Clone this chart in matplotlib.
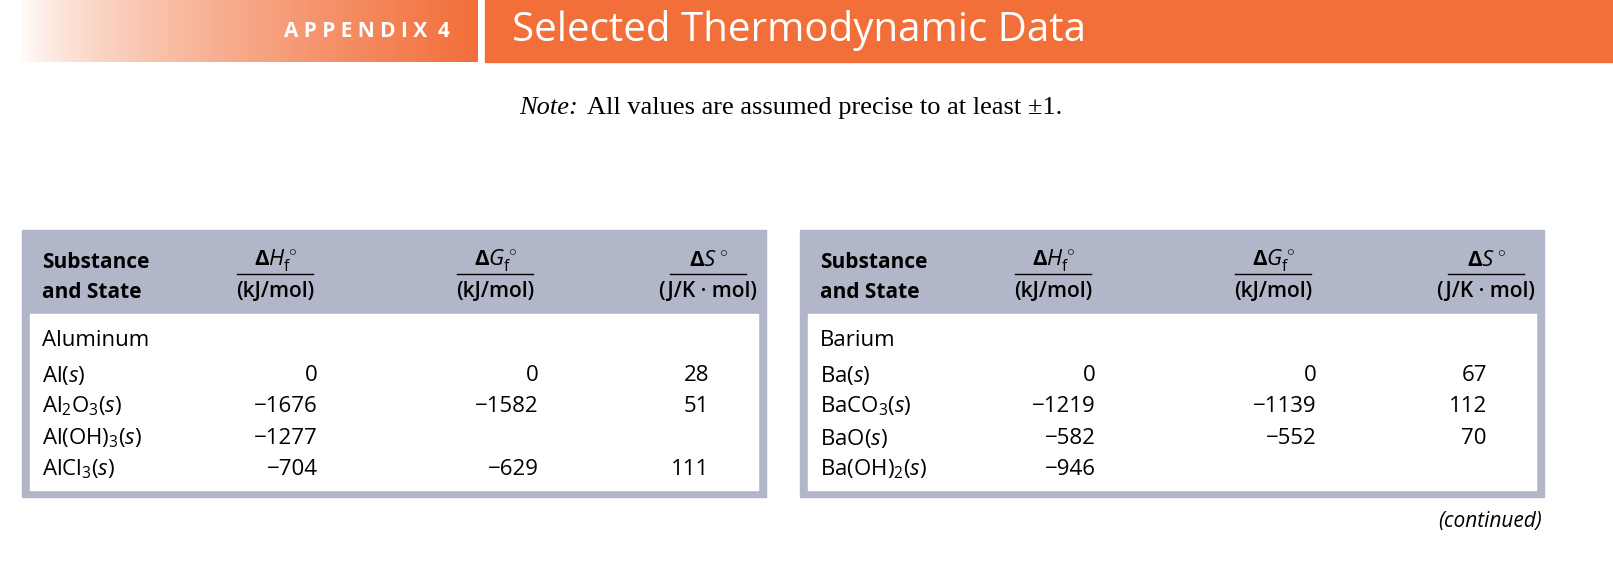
import matplotlib.pyplot as plt
import numpy as np
from matplotlib.colors import LinearSegmentedColormap

plt.rcParams['font.family'] = ['Open Sans', 'DejaVu Sans']
plt.rcParams['mathtext.fontset'] = 'custom'
plt.rcParams['mathtext.rm'] = 'Open Sans'
plt.rcParams['mathtext.it'] = 'Open Sans:italic'
plt.rcParams['mathtext.bf'] = 'Open Sans:bold'

ORANGE = '#F26F3A'
GRAYBLUE = '#B1B6C9'

left_group = 'Aluminum'
left_names = [r'Al($\it{s}$)', r'Al$_2$O$_3$($\it{s}$)', r'Al(OH)$_3$($\it{s}$)', r'AlCl$_3$($\it{s}$)']
left_dH = ['0', '\u22121676', '\u22121277', '\u2212704']
left_dG = ['0', '\u22121582', '', '\u2212629']
left_S = ['28', '51', '', '111']

right_group = 'Barium'
right_names = [r'Ba($\it{s}$)', r'BaCO$_3$($\it{s}$)', r'BaO($\it{s}$)', r'Ba(OH)$_2$($\it{s}$)']
right_dH = ['0', '\u22121219', '\u2212582', '\u2212946']
right_dG = ['0', '\u22121139', '\u2212552', '']
right_S = ['67', '112', '70', '']

fig = plt.figure(figsize=(16.13, 5.69), dpi=100)
ax = fig.add_axes([0, 0, 1, 1])
ax.set_xlim(0, 1613)
ax.set_ylim(569, 0)
ax.axis('off')

# header band with gradient
grad = np.linspace(0, 1, 256)[None, :]
cmap = LinearSegmentedColormap.from_list('g', ['white', ORANGE])
ax.imshow(grad ** 0.7, extent=(20, 478, 62, 0), cmap=cmap, aspect='auto')
ax.add_patch(plt.Rectangle((485, 0), 1128, 62, color=ORANGE))
ax.text(450, 31, 'A P P E N D I X  4', color='white', fontsize=15, fontweight='bold',
        ha='right', va='center')
ax.text(512, 30, 'Selected Thermodynamic Data', color='white', fontsize=29,
        ha='left', va='center')
ax.text(578, 108, 'Note:', fontsize=19, family='Liberation Serif', style='italic',
        ha='right', va='center')
ax.text(587, 108, 'All values are assumed precise to at least \u00b11.',
        fontsize=19, family='Liberation Serif', ha='left', va='center')


def table(x0, group, names, dH, dG, S):
    w = 744
    ax.add_patch(plt.Rectangle((x0, 230), w, 267, color=GRAYBLUE))
    ax.add_patch(plt.Rectangle((x0 + 8, 314), w - 16, 176, color='white'))
    ax.text(x0 + 20, 262, 'Substance', fontsize=15, fontweight='bold', va='center')
    ax.text(x0 + 20, 292, 'and State', fontsize=15, fontweight='bold', va='center')
    heads = [r'$\mathbf{\Delta}\mathit{H}^\circ_\mathrm{f}$', r'$\mathbf{\Delta}\mathit{G}^\circ_\mathrm{f}$',
             r'$\mathbf{\Delta}\mathit{S}^\circ$']
    units = ['(kJ/mol)', '(kJ/mol)', '(J/K \u00b7 mol)']
    cx = [x0 + 253, x0 + 473, x0 + 686]
    for c, h, u in zip(cx, heads, units):
        ax.text(c, 260, h, fontsize=16, ha='center', va='center', fontweight='bold')
        ax.plot([c - 38, c + 38], [274, 274], color='black', lw=1)
        ax.text(c, 291, u, fontsize=15, ha='center', va='center', fontweight='semibold')
    ax.text(x0 + 20, 340, group, fontsize=16, va='center')
    rx = [x0 + 296, x0 + 517, x0 + 687]
    for i, n in enumerate(names):
        y = 375 + i * 31.5
        ax.text(x0 + 20, y, n, fontsize=16, va='center')
        for r, col in zip(rx, [dH, dG, S]):
            ax.text(r, y, col[i], fontsize=16, ha='right', va='center')


table(22, left_group, left_names, left_dH, left_dG, left_S)
table(800, right_group, right_names, right_dH, right_dG, right_S)
ax.text(1542, 522, '(continued)', fontsize=15, style='italic', ha='right', va='center')

fig.savefig('out.png', dpi=100)
